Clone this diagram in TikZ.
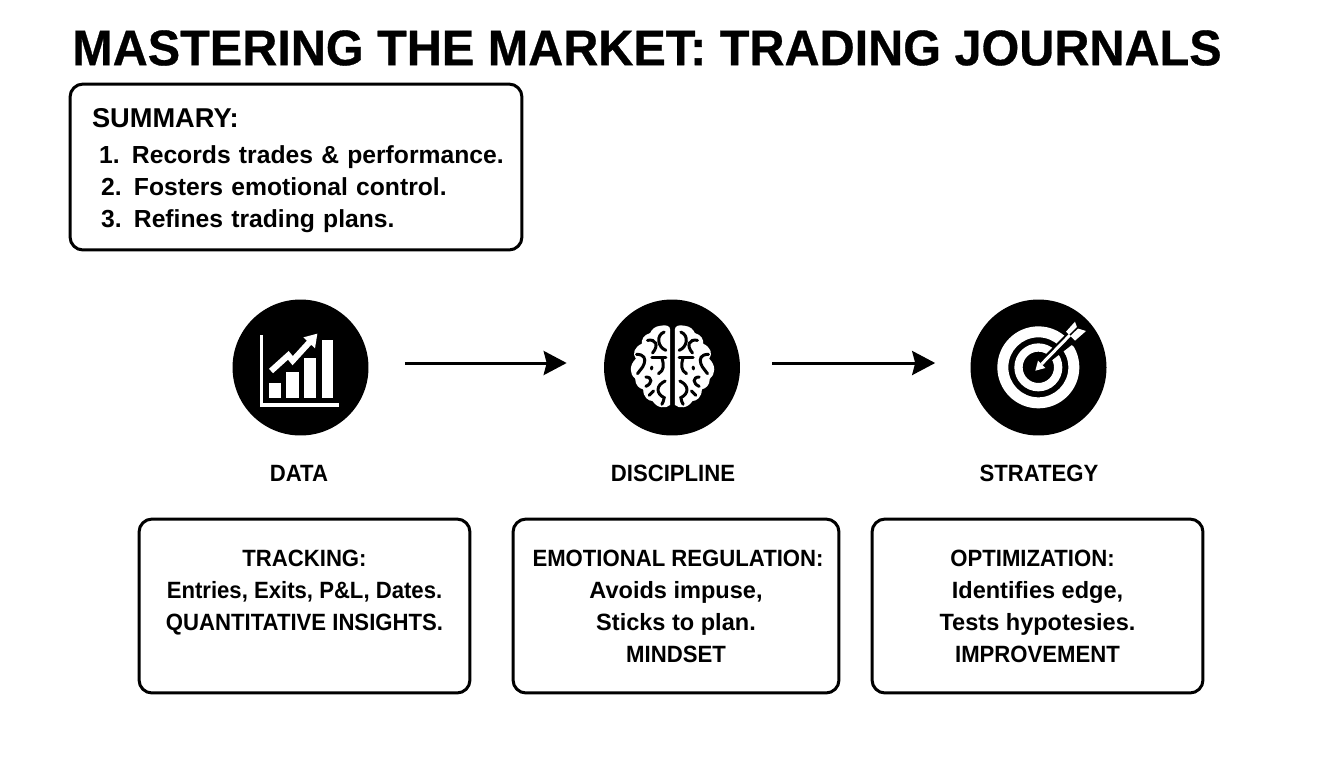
\documentclass[tikz,border=0pt]{standalone}
\usepackage{fontspec}
\setmainfont{Liberation Sans}
\newfontfamily\capsfont[FakeStretch=.94]{Liberation Sans}
\newfontfamily\headfont[FakeStretch=.97,FakeBold=.6]{Liberation Sans}
\usetikzlibrary{arrows.meta}
\tikzset{
    panel/.style={draw=black, line width=.06cm, rounded corners=.26cm, inner sep=0pt, align=center, font=\bfseries\fontsize{13.4}{18.2}\selectfont},
    badge/.style={circle, fill=black, inner sep=0pt, minimum size=2.72cm},
    caption/.style={font=\bfseries\capsfont\fontsize{13.4}{18.2}\selectfont},
    flow/.style={line width=.06cm, -{Stealth[length=.46cm,width=.48cm,inset=.06cm]}},
    icon/.style={white, line width=.07cm},
    sulcus/.style={black, line width=.06cm, line cap=round},
}
\begin{document}
\begin{tikzpicture}[x=.02cm, y=-.02cm]
    \useasboundingbox (0,0) rectangle (1344,768);

    % title and summary
    \node[font=\bfseries\headfont\fontsize{28.5}{32}\selectfont] (title) at (647,48) {MASTERING THE MARKET: TRADING JOURNALS};
    \node[panel, align=left, text width=9.04cm, minimum height=3.32cm, font=\bfseries\fontsize{14.05}{18.2}\selectfont] (summary) at (296,167)
        {\hspace*{.44cm}\rule{0pt}{.54cm}{\fontsize{15.5}{18.2}\selectfont SUMMARY:}\\[.08cm]
         \hspace*{.58cm}1. Records trades \& performance.\\
         \hspace*{.62cm}2. Fosters emotional control.\\
         \hspace*{.62cm}3. Refines trading plans.};

    % badges
    \node[badge] (data) at (300.5,367.5) {};
    \node[badge] (mind) at (672,367.5) {};
    \node[badge] (goal) at (1038.5,367.5) {};

    \node[caption] (datalabel) at (299,473) {DATA};
    \node[caption] (mindlabel) at (673,473) {DISCIPLINE};
    \node[caption] (goallabel) at (1039,473) {STRATEGY};

    % arrows
    \draw[flow, shorten <=.72cm, shorten >=.74cm] ([yshift=.09cm]data.east) -- ([yshift=.09cm]mind.west);
    \draw[flow, shorten <=.64cm, shorten >=.7cm] ([yshift=.09cm]mind.east) -- ([yshift=.09cm]goal.west);

    % detail boxes
    \node[panel, minimum width=6.62cm, minimum height=3.48cm] (tracking) at (304.5,606)
        {{\capsfont TRACKING:}\\{\capsfont Entries, Exits, P\&L, Dates.}\\{\capsfont QUANTITATIVE INSIGHTS.}\\~};
    \node[panel, minimum width=6.52cm, minimum height=3.48cm] (emotion) at (676,606)
        {\hspace*{.08cm}{\capsfont EMOTIONAL REGULATION:}\\Avoids impuse,\\Sticks to plan.\\{\capsfont MINDSET}};
    \node[panel, minimum width=6.62cm, minimum height=3.48cm] (optimize) at (1037.5,606)
        {\hspace*{-.2cm}{\capsfont OPTIMIZATION:}\\Identifies edge,\\Tests hypotesies.\\{\capsfont IMPROVEMENT}};

    % chart icon
    \begin{scope}[shift={(220,290)}, scale=1/3]
        \fill[white] (147,278) rectangle (183,323);
        \fill[white] (199,245) rectangle (236,323);
        \fill[white] (253,205) rectangle (288,323);
        \fill[white] (306,151) rectangle (340,323);
        \draw[icon, miter limit=10] (125,135) -- (125,345) -- (358,345);
        \draw[icon, line width=.12cm] (153,243) -- (205,196) -- (218,212) -- (270,155);
        \fill[white] (292,131) -- (285,175) -- (250,142) -- cycle;
    \end{scope}

    % brain icon, one half and its mirror image
    \foreach \side in {1,-1} {
        \begin{scope}[shift={(672.5,367)}, xscale=\side/3, yscale=1/3]
            \fill[white] (-7,-112) .. controls (-7,-124) and (-20,-127) .. (-35,-124)
                .. controls (-55,-122) and (-62,-112) .. (-67,-102)
                .. controls (-87,-97) and (-94,-80) .. (-92,-70)
                .. controls (-114,-60) and (-122,-40) .. (-110,-25)
                .. controls (-130,-5) and (-130,20) .. (-112,35)
                .. controls (-112,55) and (-99,65) .. (-88,67)
                .. controls (-88,90) and (-73,102) .. (-60,102)
                .. controls (-45,125) and (-20,125) .. (-7,114) -- cycle;
            \draw[sulcus] (-25,-105) .. controls (-50,-95) and (-45,-60) .. (-20,-50);
            \draw[sulcus] (-75,-80) .. controls (-50,-85) and (-40,-65) .. (-60,-42);
            \draw[sulcus] (-62,-28) -- (-20,-28);
            \draw[sulcus] (-32,-28) .. controls (-25,-5) and (-25,10) .. (-42,20);
            \draw[sulcus] (-108,-38) .. controls (-85,-38) and (-80,-25) .. (-85,-10) .. controls (-90,5) and (-100,10) .. (-105,20);
            \draw[sulcus] (-62,0) -- (-63,6);
            \draw[sulcus] (-80,30) .. controls (-60,30) and (-60,50) .. (-80,58);
            \draw[sulcus] (-22,42) .. controls (-50,55) and (-50,80) .. (-25,92) .. controls (-25,100) and (-30,108) .. (-32,112);
            \draw[sulcus] (-70,85) -- (-57,72);
        \end{scope}
    }

    % target icon
    \begin{scope}[shift={(960,290)}, scale=1/3]
        \fill[white, even odd rule] (235,232) circle (123) (235,232) circle (90) (235,232) circle (72) (235,232) circle (47);
        \fill[black] (298,108) -- (385,100) -- (372,190) -- (335,165) -- (270,215) -- (255,195) -- (315,135) -- cycle;
        \draw[white, line width=.06cm] (245,222) -- (330,135);
        \fill[white] (226,242) -- (234,212) -- (256,234) -- cycle;
        \fill[white] (318,125) -- (345,95) -- (352,115) -- (378,123) -- (345,152) -- cycle;
        \draw[black, line width=.03cm] (330,135) -- (358,108);
    \end{scope}
\end{tikzpicture}
\end{document}
